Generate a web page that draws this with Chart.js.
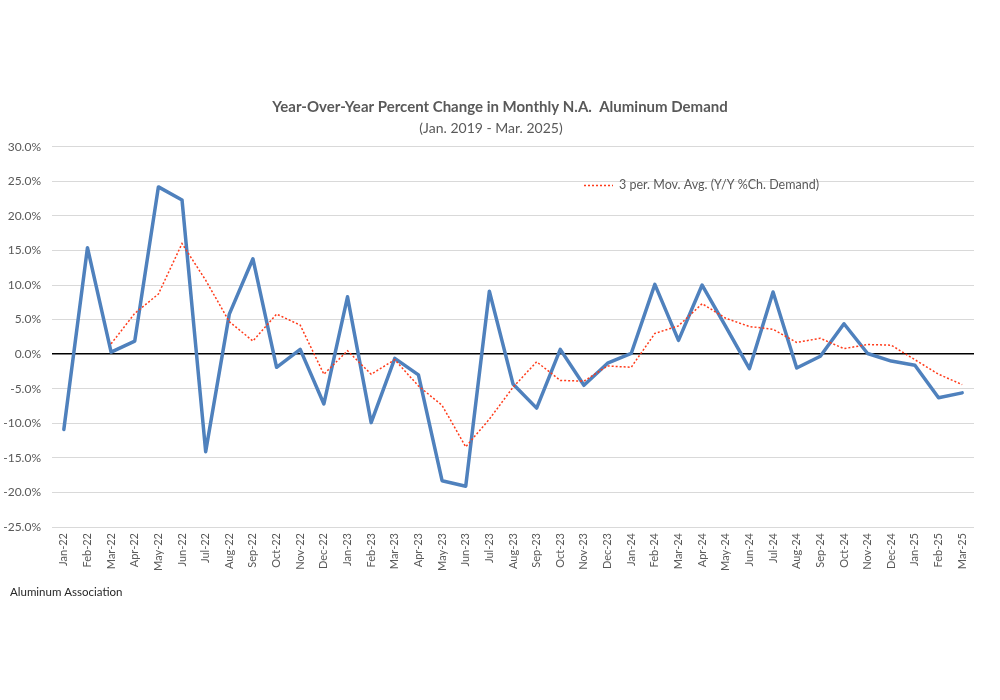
<!DOCTYPE html>
<html>
<head>
<meta charset="utf-8">
<script src="https://cdn.jsdelivr.net/npm/chart.js@4/dist/chart.umd.min.js"></script>
<style>
  html, body { margin: 0; padding: 0; background: #ffffff; }
  #wrap { width: 1000px; height: 700px; }
</style>
</head>
<body>
<div id="wrap"><canvas id="c" width="1000" height="700"></canvas></div>
<script>
const categories = [
  'Jan-22','Feb-22','Mar-22','Apr-22','May-22','Jun-22','Jul-22','Aug-22','Sep-22','Oct-22','Nov-22','Dec-22',
  'Jan-23','Feb-23','Mar-23','Apr-23','May-23','Jun-23','Jul-23','Aug-23','Sep-23','Oct-23','Nov-23','Dec-23',
  'Jan-24','Feb-24','Mar-24','Apr-24','May-24','Jun-24','Jul-24','Aug-24','Sep-24','Oct-24','Nov-24','Dec-24',
  'Jan-25','Feb-25','Mar-25'
];
const demandYoY = [
  -10.9, 15.4, 0.3, 1.9, 24.2, 22.3, -14.1, 5.8, 13.8, -1.9, 0.7, -7.2,
  8.3, -9.9, -0.6, -3.0, -18.3, -19.1, 9.1, -4.3, -7.8, 0.7, -4.5, -1.3,
  0.1, 10.1, 2.0, 10.0, 4.0, -2.1, 9.0, -2.0, -0.3, 4.4, 0.1, -1.0,
  -1.6, -6.3, -5.6
];
const movAvg3 = [
  null, null, 1.5, 5.9, 8.7, 16.0, 10.7, 4.7, 1.9, 5.8, 4.2, -2.9,
  0.5, -2.9, -0.8, -4.6, -7.4, -13.4, -9.4, -4.8, -1.1, -3.8, -3.9, -1.7,
  -1.9, 3.0, 4.1, 7.3, 5.2, 4.0, 3.6, 1.7, 2.3, 0.8, 1.4, 1.3,
  -0.8, -2.9, -4.4
];
const yMin = -25, yMax = 30, yStep = 5;
const titleText = 'Year-Over-Year Percent Change in Monthly N.A.  Aluminum Demand';
const subtitleText = '(Jan. 2019 - Mar. 2025)';
const legendText = '3 per. Mov. Avg. (Y/Y %Ch. Demand)';
const sourceText = 'Aluminum Association';

const FONT = 'Lato, "Liberation Sans", Arial, sans-serif';
const GREY = '#595959';
const BLUE = '#4f81bd';
const RED = '#ff3b1a';

const extrasPlugin = {
  id: 'extras',
  afterLayout(chart) {
    // center the title block on the full canvas width
    chart.boxes.forEach((b) => {
      if (b.position === 'top' && b.options && typeof b.options.text === 'string') {
        if (b.options.text === titleText) b.left = 26;
        if (b.options.text === subtitleText) b.left = 8;
      }
    });
  },
  afterDraw(chart) {
    const ctx = chart.ctx;
    ctx.save();
    // legend for moving average (inside plot area)
    ctx.strokeStyle = RED;
    ctx.lineWidth = 1.5;
    ctx.setLineDash([2, 2]);
    ctx.beginPath();
    ctx.moveTo(584, 185.5);
    ctx.lineTo(613, 185.5);
    ctx.stroke();
    ctx.setLineDash([]);
    ctx.fillStyle = GREY;
    ctx.font = '12.5px ' + FONT;
    ctx.textBaseline = 'middle';
    ctx.textAlign = 'left';
    ctx.fillText(legendText, 619, 185);
    // source note
    ctx.fillStyle = '#262626';
    ctx.font = '11.5px ' + FONT;
    ctx.fillText(sourceText, 10, 592);
    ctx.restore();
  }
};

new Chart(document.getElementById('c'), {
  type: 'line',
  data: {
    labels: categories,
    datasets: [
      {
        label: legendText,
        data: movAvg3,
        borderColor: RED,
        backgroundColor: RED,
        borderWidth: 1.5,
        borderDash: [2, 2],
        pointRadius: 0,
        tension: 0,
        spanGaps: false,
        order: 0
      },
      {
        label: 'Y/Y %Ch. Demand',
        data: demandYoY,
        borderColor: BLUE,
        backgroundColor: BLUE,
        borderWidth: 3.5,
        pointRadius: 0,
        tension: 0,
        borderJoinStyle: 'round',
        borderCapStyle: 'round',
        order: 1
      }
    ]
  },
  options: {
    responsive: false,
    animation: false,
    devicePixelRatio: 1,
    layout: { padding: { top: 98, right: 26, bottom: 0, left: 0 } },
    plugins: {
      legend: { display: false },
      tooltip: { enabled: false },
      title: {
        display: true,
        text: titleText,
        color: GREY,
        font: { family: FONT, size: 15, weight: 'bold', lineHeight: 1.2 },
        padding: { top: 0, bottom: 0 }
      },
      subtitle: {
        display: true,
        text: subtitleText,
        color: GREY,
        font: { family: FONT, size: 14, weight: 'normal', lineHeight: 1.2 },
        padding: { top: 4, bottom: 10 }
      }
    },
    scales: {
      x: {
        offset: true,
        grid: { display: false, drawTicks: false },
        border: { display: false },
        ticks: {
          color: GREY,
          font: { family: FONT, size: 11 },
          maxRotation: 90,
          minRotation: 90,
          autoSkip: false,
          padding: 6
        },
        afterFit(scale) { scale.height = 173; }
      },
      y: {
        min: yMin,
        max: yMax,
        grid: {
          drawTicks: false,
          color: (c) => (c.tick && c.tick.value === 0 ? '#000000' : '#d9d9d9'),
          lineWidth: (c) => (c.tick && c.tick.value === 0 ? 1.5 : 1)
        },
        border: { display: false },
        ticks: {
          stepSize: yStep,
          color: GREY,
          padding: 11,
          font: { family: FONT, size: 12 },
          callback: (v) => Number(v).toFixed(1) + '%'
        },
        afterFit(scale) { scale.width = 52; }
      }
    }
  },
  plugins: [extrasPlugin]
});
</script>
</body>
</html>
